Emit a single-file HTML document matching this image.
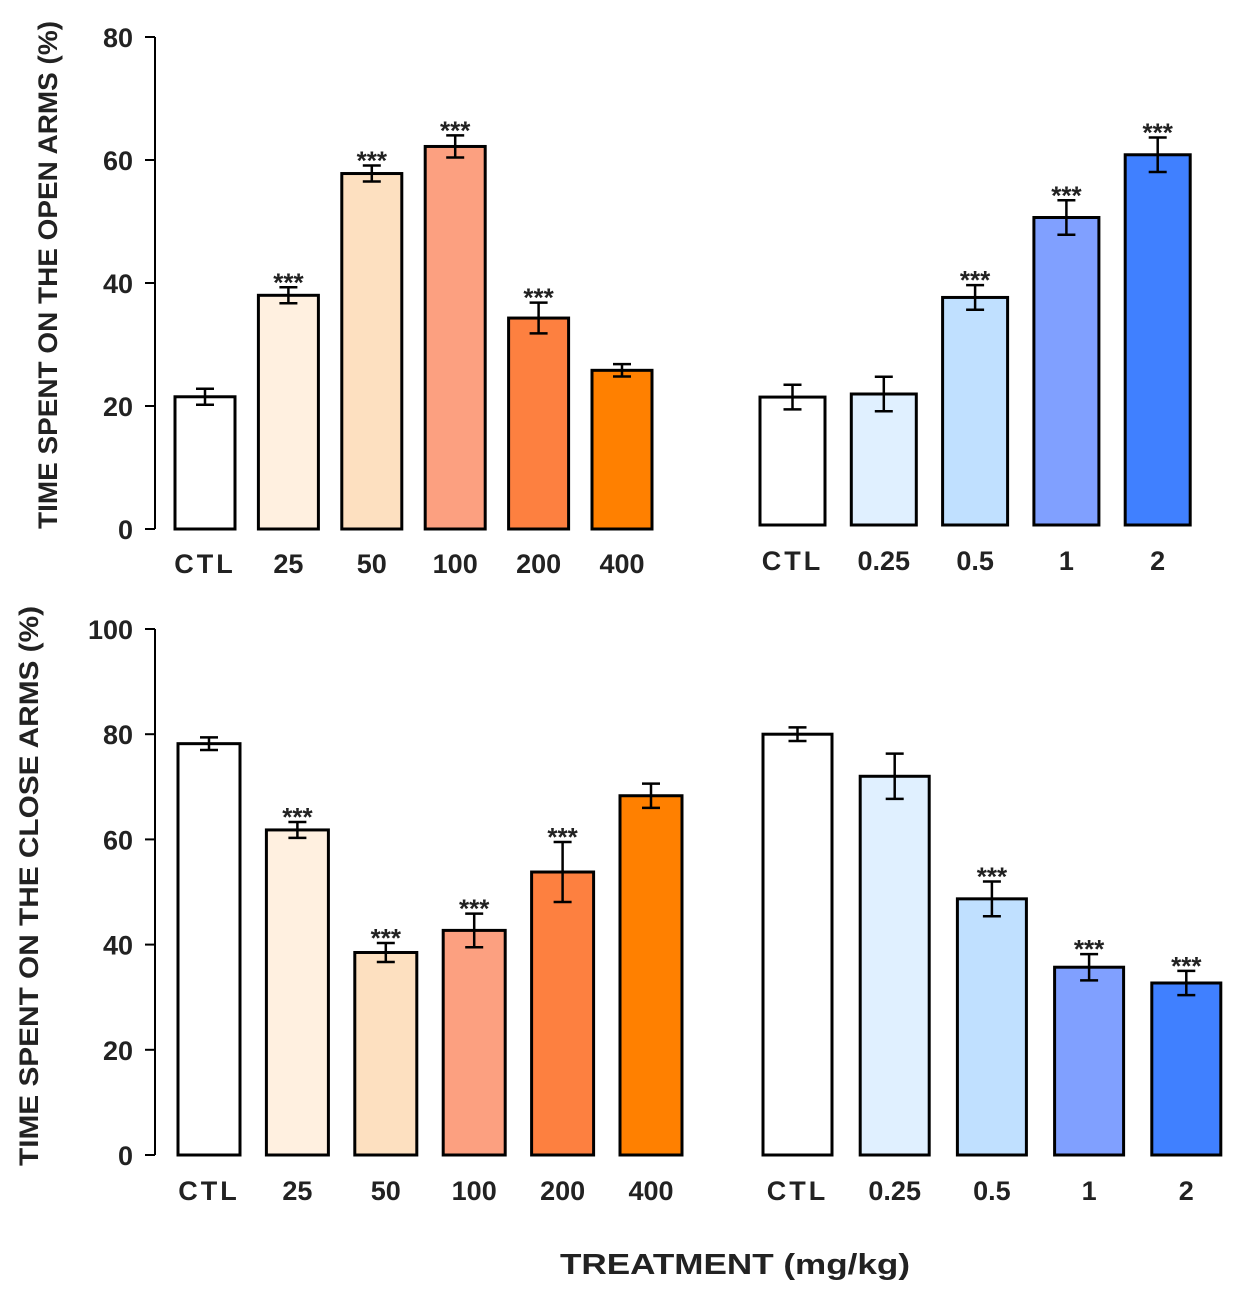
<!DOCTYPE html>
<html><head><meta charset="utf-8">
<style>
html,body{margin:0;padding:0;background:#fff;}
svg{display:block;font-family:"Liberation Sans",Arial,sans-serif;}
</style></head>
<body>
<svg id="c" width="1236" height="1296" viewBox="0 0 1236 1296" xmlns="http://www.w3.org/2000/svg"></svg>
<script>
const topLeftCats=["CTL","25","50","100","200","400"];
const topLeftVals=[21.5,38,57.8,62.2,34.3,25.8];
const topLeftErr=[1.3,1.3,1.3,1.8,2.5,1.0];
const topLeftSig=[false,true,true,true,true,false];
const topRightCats=["CTL","0.25","0.5","1","2"];
const topRightVals=[20.8,21.3,37,50,60.2];
const topRightErr=[2,2.8,2,2.8,2.8];
const topRightSig=[false,false,true,true,true];
const botLeftVals=[78.2,61.8,38.5,42.7,53.8,68.3];
const botLeftErr=[1.2,1.5,1.8,3.2,5.7,2.3];
const botLeftSig=[false,true,true,true,true,false];
const botRightVals=[80,72,48.7,35.7,32.7];
const botRightErr=[1.3,4.3,3.3,2.5,2.3];
const botRightSig=[false,false,true,true,true];
const topTicks=[0,20,40,60,80];
const botTicks=[0,20,40,60,80,100];
const orange=["#ffffff","#fff0e0","#fde0c0","#fca080","#fd8040","#ff8000"];
const blue=["#ffffff","#e0f0ff","#c0e0ff","#80a0ff","#4080ff"];

const svg=document.getElementById('c');
const NS="http://www.w3.org/2000/svg";
function mk(tag,attrs,parent){const e=document.createElementNS(NS,tag);for(const k in attrs)e.setAttribute(k,attrs[k]);(parent||svg).appendChild(e);return e;}
function txt(x,y,s,size,anchor,parent){const t=mk('text',{x:x,y:y,'font-size':size,'font-weight':'bold','text-anchor':anchor||'middle',fill:'#222'},parent);t.textContent=s;return t;}

function axis(x,y0,scale,ticks,name){
  const g=mk('g',{});
  
  
  const yTop=y0-ticks[ticks.length-1]*scale;
  mk('line',{x1:x,y1:y0,x2:x,y2:yTop,stroke:'#000','stroke-width':2},g);
  ticks.forEach(t=>{const y=y0-t*scale;mk('line',{x1:x-10,y1:y,x2:x,y2:y,stroke:'#000','stroke-width':2},g);txt(x-22,y+10,String(t),27,'end',g);});
}
function bars(cats,vals,errs,sig,colors,x0,step,w,y0,scale,name,labY){
  const g=mk('g',{});
  
  
  vals.forEach((v,i)=>{
    const x=x0+i*step, y=y0-v*scale;
    const r=mk('rect',{x:x,y:y,width:w,height:v*scale,fill:colors[i],stroke:'#000','stroke-width':3},g);
    
    
    const cx=x+w/2, e=errs[i]*scale;
    mk('line',{x1:cx,y1:y-e,x2:cx,y2:y+e,stroke:'#000','stroke-width':2.5},g);
    mk('line',{x1:cx-9,y1:y-e,x2:cx+9,y2:y-e,stroke:'#000','stroke-width':2.5},g);
    mk('line',{x1:cx-9,y1:y+e,x2:cx+9,y2:y+e,stroke:'#000','stroke-width':2.5},g);
    if(sig[i]) txt(cx,y-e+4,'***',26,'middle',g);
    const lt=txt(cx,labY,cats[i],27,'middle',g);
    if(cats[i]==='CTL') lt.setAttribute('letter-spacing','3');
  });
}
axis(155,529,6.15,topTicks,'top-y-axis');
bars(topLeftCats,topLeftVals,topLeftErr,topLeftSig,orange,175,83.4,60,529,6.15,'top-left-bars',573);
bars(topRightCats,topRightVals,topRightErr,topRightSig,blue,760,91.3,65,525,6.15,'top-right-bars',570);
axis(155,1155,5.26,botTicks,'bottom-y-axis');
bars(topLeftCats,botLeftVals,botLeftErr,botLeftSig,orange,178,88.4,62,1155,5.26,'bottom-left-bars',1200);
bars(topRightCats,botRightVals,botRightErr,botRightSig,blue,763,97.2,69,1155,5.26,'bottom-right-bars',1200);
let t=txt(0,0,'TIME SPENT ON THE OPEN ARMS (%)',27,'middle');
t.setAttribute('transform','translate(57,275) rotate(-90)');
t.setAttribute('textLength','508');t.setAttribute('lengthAdjust','spacingAndGlyphs');

t=txt(0,0,'TIME SPENT ON THE CLOSE ARMS (%)',27,'middle');
t.setAttribute('transform','translate(38,886) rotate(-90)');
t.setAttribute('textLength','560');t.setAttribute('lengthAdjust','spacingAndGlyphs');

t=txt(735,1274,'TREATMENT (mg/kg)',29,'middle');
t.setAttribute('textLength','350');t.setAttribute('lengthAdjust','spacingAndGlyphs');

</script>
</body></html>
